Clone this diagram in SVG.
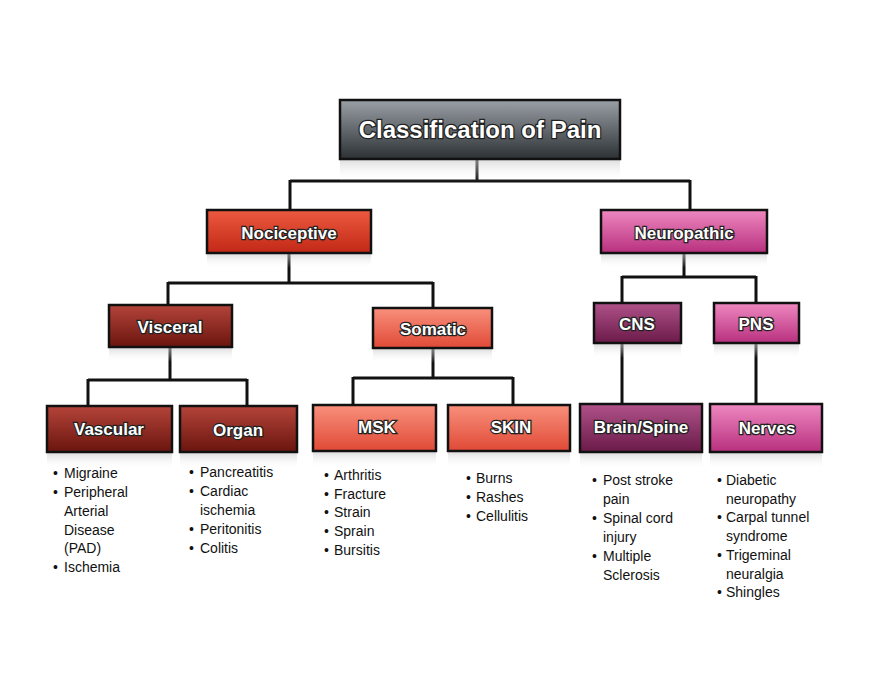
<svg xmlns="http://www.w3.org/2000/svg" width="871" height="692" viewBox="0 0 871 692">
<defs>
<linearGradient id="gGray" x1="0" y1="0" x2="0" y2="1"><stop offset="0" stop-color="#9aa0a6"/><stop offset="1" stop-color="#2c3134"/></linearGradient>
<linearGradient id="gRed" x1="0" y1="0" x2="0" y2="1"><stop offset="0" stop-color="#ec5a40"/><stop offset="1" stop-color="#c22816"/></linearGradient>
<linearGradient id="gDark" x1="0" y1="0" x2="0" y2="1"><stop offset="0" stop-color="#b4443a"/><stop offset="1" stop-color="#6a150e"/></linearGradient>
<linearGradient id="gSalmon" x1="0" y1="0" x2="0" y2="1"><stop offset="0" stop-color="#f8907c"/><stop offset="1" stop-color="#e04a36"/></linearGradient>
<linearGradient id="gPink" x1="0" y1="0" x2="0" y2="1"><stop offset="0" stop-color="#ee88c0"/><stop offset="1" stop-color="#b8307e"/></linearGradient>
<linearGradient id="gPurple" x1="0" y1="0" x2="0" y2="1"><stop offset="0" stop-color="#b0528a"/><stop offset="1" stop-color="#6a1a48"/></linearGradient>
<linearGradient id="gRefl" x1="0" y1="0" x2="0" y2="1"><stop offset="0" stop-color="#c8c8c8" stop-opacity="0.6"/><stop offset="1" stop-color="#ffffff" stop-opacity="0"/></linearGradient>
</defs>
<style>
.box{stroke:#111;stroke-width:2.5}
.refl{fill:url(#gRefl)}
.lbl{font-family:"Liberation Sans",Arial,sans-serif;font-weight:bold;fill:#fff;stroke:#222;stroke-width:2.5;paint-order:stroke;text-anchor:middle}
.li{font-family:"Liberation Sans",Arial,sans-serif;font-size:14px;fill:#111}
.con{stroke:#111;stroke-width:3;fill:none}
</style>
<rect width="871" height="692" fill="#fff"/>
<g id="connectors">
<path class="con" d="M477 159V181M290 181H690M290 180V210M690 180V210"/>
<path class="con" d="M289 253V283M168 283H433M168 282V305M433 282V308"/>
<path class="con" d="M684 253V277M622 277H756M622 276V303M756 276V303"/>
<path class="con" d="M170 347V380M88 380H247M88 379V406M247 379V406"/>
<path class="con" d="M433 348V378M353 378H513M353 377V405M513 377V405"/>
<path class="con" d="M622 343V404M756 343V404"/>
</g>
<g id="title"><rect class="refl" x="340" y="160" width="280" height="22"/><rect class="box" x="340" y="100" width="280" height="59" fill="url(#gGray)"/><text class="lbl" x="480" y="138" font-size="24">Classification of Pain</text></g>
<g id="nociceptive"><rect class="refl" x="207" y="254" width="164" height="14"/><rect class="box" x="207" y="210" width="164" height="43" fill="url(#gRed)"/><text class="lbl" x="289" y="239" font-size="17">Nociceptive</text></g>
<g id="neuropathic"><rect class="refl" x="601" y="254" width="166" height="14"/><rect class="box" x="601" y="210" width="166" height="43" fill="url(#gPink)"/><text class="lbl" x="684" y="239" font-size="17">Neuropathic</text></g>
<g id="visceral"><rect class="refl" x="109" y="348" width="123" height="14"/><rect class="box" x="109" y="305" width="123" height="42" fill="url(#gDark)"/><text class="lbl" x="170" y="333" font-size="17">Visceral</text></g>
<g id="somatic"><rect class="refl" x="373" y="349" width="119" height="14"/><rect class="box" x="373" y="308" width="119" height="40" fill="url(#gSalmon)"/><text class="lbl" x="433" y="335" font-size="17">Somatic</text></g>
<g id="cns"><rect class="refl" x="594" y="344" width="87" height="14"/><rect class="box" x="594" y="303" width="87" height="40" fill="url(#gPurple)"/><text class="lbl" x="637" y="330" font-size="17">CNS</text></g>
<g id="pns"><rect class="refl" x="714" y="344" width="85" height="14"/><rect class="box" x="714" y="303" width="85" height="40" fill="url(#gPink)"/><text class="lbl" x="756" y="330" font-size="17">PNS</text></g>
<g id="vascular"><rect class="refl" x="47" y="453" width="125" height="16"/><rect class="box" x="47" y="406" width="125" height="46" fill="url(#gDark)"/><text class="lbl" x="109" y="435" font-size="17">Vascular</text>
<text class="li" x="53" y="478">•</text><text class="li" x="64" y="478">Migraine</text>
<text class="li" x="53" y="497">•</text><text class="li" x="64" y="497">Peripheral</text>
<text class="li" x="64" y="516">Arterial</text><text class="li" x="64" y="535">Disease</text><text class="li" x="64" y="553">(PAD)</text>
<text class="li" x="53" y="572">•</text><text class="li" x="64" y="572">Ischemia</text></g>
<g id="organ"><rect class="refl" x="180" y="453" width="117" height="16"/><rect class="box" x="180" y="406" width="117" height="46" fill="url(#gDark)"/><text class="lbl" x="238" y="436" font-size="17">Organ</text>
<text class="li" x="189" y="477">•</text><text class="li" x="200" y="477">Pancreatitis</text>
<text class="li" x="189" y="496">•</text><text class="li" x="200" y="496">Cardiac</text><text class="li" x="200" y="515">ischemia</text>
<text class="li" x="189" y="534">•</text><text class="li" x="200" y="534">Peritonitis</text>
<text class="li" x="189" y="553">•</text><text class="li" x="200" y="553">Colitis</text></g>
<g id="msk"><rect class="refl" x="313" y="452" width="123" height="16"/><rect class="box" x="313" y="405" width="123" height="46" fill="url(#gSalmon)"/><text class="lbl" x="377" y="433" font-size="17">MSK</text>
<text class="li" x="324" y="480">•</text><text class="li" x="334" y="480">Arthritis</text>
<text class="li" x="324" y="499">•</text><text class="li" x="334" y="499">Fracture</text>
<text class="li" x="324" y="517">•</text><text class="li" x="334" y="517">Strain</text>
<text class="li" x="324" y="536">•</text><text class="li" x="334" y="536">Sprain</text>
<text class="li" x="324" y="555">•</text><text class="li" x="334" y="555">Bursitis</text></g>
<g id="skin"><rect class="refl" x="448" y="452" width="122" height="16"/><rect class="box" x="448" y="405" width="122" height="46" fill="url(#gSalmon)"/><text class="lbl" x="511" y="433" font-size="17">SKIN</text>
<text class="li" x="466" y="483">•</text><text class="li" x="476" y="483">Burns</text>
<text class="li" x="466" y="502">•</text><text class="li" x="476" y="502">Rashes</text>
<text class="li" x="466" y="521">•</text><text class="li" x="476" y="521">Cellulitis</text></g>
<g id="brainspine"><rect class="refl" x="580" y="453" width="122" height="16"/><rect class="box" x="580" y="404" width="122" height="48" fill="url(#gPurple)"/><text class="lbl" x="641" y="433" font-size="17">Brain/Spine</text>
<text class="li" x="592" y="485">•</text><text class="li" x="603" y="485">Post stroke</text><text class="li" x="603" y="504">pain</text>
<text class="li" x="592" y="523">•</text><text class="li" x="603" y="523">Spinal cord</text><text class="li" x="603" y="542">injury</text>
<text class="li" x="592" y="561">•</text><text class="li" x="603" y="561">Multiple</text><text class="li" x="603" y="580">Sclerosis</text></g>
<g id="nerves"><rect class="refl" x="710" y="453" width="112" height="16"/><rect class="box" x="710" y="404" width="112" height="48" fill="url(#gPink)"/><text class="lbl" x="767" y="434" font-size="17">Nerves</text>
<text class="li" x="717" y="485">•</text><text class="li" x="726" y="485">Diabetic</text><text class="li" x="726" y="504">neuropathy</text>
<text class="li" x="717" y="522">•</text><text class="li" x="726" y="522">Carpal tunnel</text><text class="li" x="726" y="541">syndrome</text>
<text class="li" x="717" y="560">•</text><text class="li" x="726" y="560">Trigeminal</text><text class="li" x="726" y="579">neuralgia</text>
<text class="li" x="717" y="597">•</text><text class="li" x="726" y="597">Shingles</text></g>
</svg>
